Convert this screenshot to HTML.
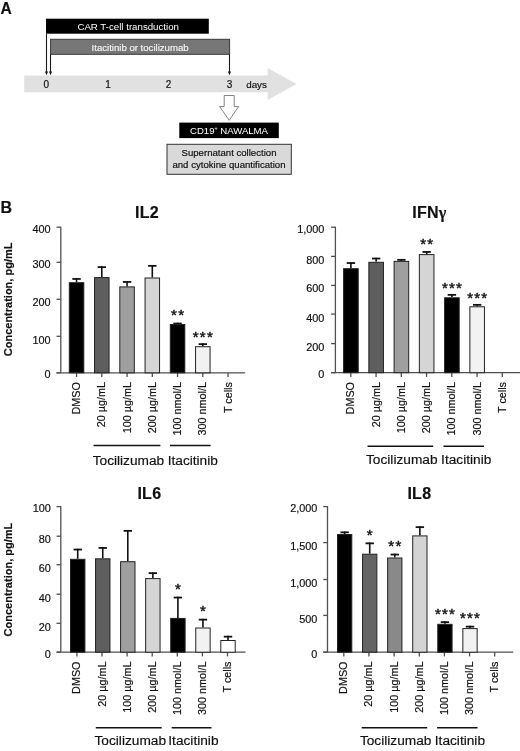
<!DOCTYPE html>
<html><head><meta charset="utf-8"><title>Figure</title>
<style>html,body{margin:0;padding:0;background:#fff;}svg{display:block;filter:blur(0.3px);}</style>
</head><body>
<svg width="520" height="751" viewBox="0 0 520 751" font-family='"Liberation Sans", Arial, sans-serif' fill="#111">
<rect width="520" height="751" fill="#fff"/>
<text stroke="#111" stroke-width="0.18" x="0.4" y="13.6" font-size="15.6" font-weight="bold">A</text>
<polygon points="24.2,75.6 267.7,75.6 267.7,68 296.5,84 267.7,100 267.7,92.3 24.2,92.3" fill="#e1e1e1"/>
<rect x="46" y="18.7" width="162.8" height="15" fill="#000"/>
<text x="128.2" y="30.3" font-size="9.7" fill="#fff" text-anchor="middle">CAR T-cell transduction</text>
<rect x="50.6" y="39.3" width="179" height="15" fill="#777" stroke="#383838" stroke-width="1"/>
<text stroke="#f2f2f2" stroke-width="0.18" x="140.1" y="50.5" font-size="9.6" fill="#f2f2f2" text-anchor="middle">Itacitinib or tocilizumab</text>
<line x1="46.5" y1="33.7" x2="46.5" y2="72" stroke="#1a1a1a" stroke-width="1.1"/>
<polygon points="44.9,71.6 48.1,71.6 46.5,75.3" fill="#1a1a1a"/>
<line x1="50.5" y1="54.3" x2="50.5" y2="72" stroke="#1a1a1a" stroke-width="1.1"/>
<polygon points="48.9,71.6 52.1,71.6 50.5,75.3" fill="#1a1a1a"/>
<line x1="229.5" y1="54.3" x2="229.5" y2="72" stroke="#1a1a1a" stroke-width="1.1"/>
<polygon points="227.9,71.6 231.1,71.6 229.5,75.3" fill="#1a1a1a"/>
<text stroke="#111" stroke-width="0.18" x="46.4" y="88.0" font-size="10" text-anchor="middle">0</text>
<text stroke="#111" stroke-width="0.18" x="108.0" y="88.0" font-size="10" text-anchor="middle">1</text>
<text stroke="#111" stroke-width="0.18" x="168.6" y="88.0" font-size="10" text-anchor="middle">2</text>
<text stroke="#111" stroke-width="0.18" x="229.6" y="88.0" font-size="10" text-anchor="middle">3</text>
<text stroke="#111" stroke-width="0.18" x="246.2" y="88.0" font-size="9.8">days</text>
<polygon points="224.2,95.5 234.2,95.5 234.2,106.5 238.7,106.5 229.2,120.3 219.6,106.5 224.2,106.5" fill="#fff" stroke="#777" stroke-width="0.9"/>
<rect x="179.3" y="122.6" width="99.5" height="15.5" fill="#000"/>
<text x="229" y="133.8" font-size="9.6" fill="#fff" text-anchor="middle">CD19<tspan font-size="5.2" dy="-3.6">+</tspan><tspan dy="3.6"> NAWALMA</tspan></text>
<rect x="167" y="144.3" width="124.3" height="30" fill="#d9d9d9" stroke="#333" stroke-width="1"/>
<text stroke="#111" stroke-width="0.18" x="229" y="156.3" font-size="9.6" text-anchor="middle">Supernatant collection</text>
<text stroke="#111" stroke-width="0.18" x="229" y="167.8" font-size="9.6" text-anchor="middle">and cytokine quantification</text>
<text stroke="#111" stroke-width="0.18" x="0.6" y="212.9" font-size="16" font-weight="bold">B</text>
<text stroke="#111" stroke-width="0.18" x="147.0" y="218.2" font-size="16" font-weight="bold" letter-spacing="0.3" text-anchor="middle">IL2</text>
<line x1="60.8" y1="226.7" x2="60.8" y2="372.8" stroke="#505050" stroke-width="1.3"/>
<line x1="56.5" y1="372.8" x2="245.2" y2="372.8" stroke="#505050" stroke-width="1.3"/>
<line x1="56.5" y1="372.80" x2="60.8" y2="372.80" stroke="#505050" stroke-width="1.3"/>
<text stroke="#111" stroke-width="0.18" x="50.6" y="377.90" font-size="10.9" text-anchor="end">0</text>
<line x1="56.5" y1="336.30" x2="60.8" y2="336.30" stroke="#505050" stroke-width="1.3"/>
<text stroke="#111" stroke-width="0.18" x="50.6" y="343.50" font-size="10.9" text-anchor="end">100</text>
<line x1="56.5" y1="299.30" x2="60.8" y2="299.30" stroke="#505050" stroke-width="1.3"/>
<text stroke="#111" stroke-width="0.18" x="50.6" y="305.60" font-size="10.9" text-anchor="end">200</text>
<line x1="56.5" y1="262.30" x2="60.8" y2="262.30" stroke="#505050" stroke-width="1.3"/>
<text stroke="#111" stroke-width="0.18" x="50.6" y="268.10" font-size="10.9" text-anchor="end">300</text>
<line x1="56.5" y1="227.20" x2="60.8" y2="227.20" stroke="#505050" stroke-width="1.3"/>
<text stroke="#111" stroke-width="0.18" x="50.6" y="232.90" font-size="10.9" text-anchor="end">400</text>
<line x1="76.55" y1="372.8" x2="76.55" y2="377.0" stroke="#505050" stroke-width="1.3"/>
<line x1="76.55" y1="282.20" x2="76.55" y2="278.10" stroke="#111" stroke-width="1.6"/>
<line x1="72.35" y1="278.95" x2="80.75" y2="278.95" stroke="#111" stroke-width="1.8"/>
<rect x="69.30" y="282.70" width="14.50" height="90.10" fill="#000" stroke="#222" stroke-width="1"/>
<text stroke="#111" stroke-width="0.18" transform="translate(80.05,382.10) rotate(-90)" font-size="10.8" text-anchor="end">DMSO</text>
<line x1="101.80" y1="372.8" x2="101.80" y2="377.0" stroke="#505050" stroke-width="1.3"/>
<line x1="101.80" y1="277.10" x2="101.80" y2="266.30" stroke="#111" stroke-width="1.6"/>
<line x1="97.60" y1="267.15" x2="106.00" y2="267.15" stroke="#111" stroke-width="1.8"/>
<rect x="94.55" y="277.60" width="14.50" height="95.20" fill="#5e5e5e" stroke="#222" stroke-width="1"/>
<text stroke="#111" stroke-width="0.18" transform="translate(105.30,382.10) rotate(-90)" font-size="10.8" text-anchor="end">20 µg/mL</text>
<line x1="127.05" y1="372.8" x2="127.05" y2="377.0" stroke="#505050" stroke-width="1.3"/>
<line x1="127.05" y1="286.40" x2="127.05" y2="281.10" stroke="#111" stroke-width="1.6"/>
<line x1="122.85" y1="281.95" x2="131.25" y2="281.95" stroke="#111" stroke-width="1.8"/>
<rect x="119.80" y="286.90" width="14.50" height="85.90" fill="#9f9f9f" stroke="#222" stroke-width="1"/>
<text stroke="#111" stroke-width="0.18" transform="translate(130.55,382.10) rotate(-90)" font-size="10.8" text-anchor="end">100 µg/mL</text>
<line x1="152.30" y1="372.8" x2="152.30" y2="377.0" stroke="#505050" stroke-width="1.3"/>
<line x1="152.30" y1="277.50" x2="152.30" y2="265.00" stroke="#111" stroke-width="1.6"/>
<line x1="148.10" y1="265.85" x2="156.50" y2="265.85" stroke="#111" stroke-width="1.8"/>
<rect x="145.05" y="278.00" width="14.50" height="94.80" fill="#d5d5d5" stroke="#222" stroke-width="1"/>
<text stroke="#111" stroke-width="0.18" transform="translate(155.80,382.10) rotate(-90)" font-size="10.8" text-anchor="end">200 µg/mL</text>
<line x1="177.55" y1="372.8" x2="177.55" y2="377.0" stroke="#505050" stroke-width="1.3"/>
<line x1="177.55" y1="324.00" x2="177.55" y2="322.70" stroke="#111" stroke-width="1.6"/>
<line x1="173.35" y1="323.55" x2="181.75" y2="323.55" stroke="#111" stroke-width="1.8"/>
<rect x="170.30" y="324.50" width="14.50" height="48.30" fill="#000" stroke="#222" stroke-width="1"/>
<text x="178.15" y="320.20" font-size="15" font-weight="normal" letter-spacing="1.2" text-anchor="middle" stroke="#111" stroke-width="0.45">**</text>
<text stroke="#111" stroke-width="0.18" transform="translate(181.05,382.10) rotate(-90)" font-size="10.8" text-anchor="end">100 nmol/L</text>
<line x1="202.80" y1="372.8" x2="202.80" y2="377.0" stroke="#505050" stroke-width="1.3"/>
<line x1="202.80" y1="346.20" x2="202.80" y2="343.30" stroke="#111" stroke-width="1.6"/>
<line x1="198.60" y1="344.15" x2="207.00" y2="344.15" stroke="#111" stroke-width="1.8"/>
<rect x="195.55" y="346.70" width="14.50" height="26.10" fill="#f2f2f2" stroke="#222" stroke-width="1"/>
<text x="203.40" y="341.90" font-size="15" font-weight="normal" letter-spacing="1.2" text-anchor="middle" stroke="#111" stroke-width="0.45">***</text>
<text stroke="#111" stroke-width="0.18" transform="translate(206.30,382.10) rotate(-90)" font-size="10.8" text-anchor="end">300 nmol/L</text>
<line x1="228.05" y1="372.8" x2="228.05" y2="377.0" stroke="#505050" stroke-width="1.3"/>
<text stroke="#111" stroke-width="0.18" transform="translate(231.55,382.10) rotate(-90)" font-size="10.8" text-anchor="end">T cells</text>
<line x1="93.6" y1="445.5" x2="160.4" y2="445.5" stroke="#111" stroke-width="1.4"/>
<line x1="170.0" y1="445.5" x2="210.6" y2="445.5" stroke="#111" stroke-width="1.4"/>
<text stroke="#111" stroke-width="0.18" x="92.7" y="464.6" font-size="13.7">Tocilizumab</text>
<text stroke="#111" stroke-width="0.18" x="217.9" y="464.6" font-size="13.7" text-anchor="end">Itacitinib</text>
<text stroke="#111" stroke-width="0.18" transform="translate(11.5,299.4) rotate(-90)" font-size="11" font-weight="bold" text-anchor="middle">Concentration, pg/mL</text>
<text stroke="#111" stroke-width="0.18" x="429.4" y="217.6" font-size="16" font-weight="bold" letter-spacing="0.3" text-anchor="middle">IFN<tspan font-family="Liberation Serif">γ</tspan></text>
<line x1="335.4" y1="226.7" x2="335.4" y2="372.7" stroke="#505050" stroke-width="1.3"/>
<line x1="331.09999999999997" y1="372.7" x2="520" y2="372.7" stroke="#505050" stroke-width="1.3"/>
<line x1="331.09999999999997" y1="372.70" x2="335.4" y2="372.70" stroke="#505050" stroke-width="1.3"/>
<text stroke="#111" stroke-width="0.18" x="324.4" y="377.60" font-size="10.9" text-anchor="end">0</text>
<line x1="331.09999999999997" y1="343.60" x2="335.4" y2="343.60" stroke="#505050" stroke-width="1.3"/>
<text stroke="#111" stroke-width="0.18" x="324.4" y="351.30" font-size="10.9" text-anchor="end">200</text>
<line x1="331.09999999999997" y1="314.10" x2="335.4" y2="314.10" stroke="#505050" stroke-width="1.3"/>
<text stroke="#111" stroke-width="0.18" x="324.4" y="322.20" font-size="10.9" text-anchor="end">400</text>
<line x1="331.09999999999997" y1="285.40" x2="335.4" y2="285.40" stroke="#505050" stroke-width="1.3"/>
<text stroke="#111" stroke-width="0.18" x="324.4" y="292.40" font-size="10.9" text-anchor="end">600</text>
<line x1="331.09999999999997" y1="256.40" x2="335.4" y2="256.40" stroke="#505050" stroke-width="1.3"/>
<text stroke="#111" stroke-width="0.18" x="324.4" y="263.70" font-size="10.9" text-anchor="end">800</text>
<line x1="331.09999999999997" y1="227.20" x2="335.4" y2="227.20" stroke="#505050" stroke-width="1.3"/>
<text stroke="#111" stroke-width="0.18" x="324.4" y="232.90" font-size="10.9" text-anchor="end">1,000</text>
<line x1="350.80" y1="372.7" x2="350.80" y2="376.9" stroke="#505050" stroke-width="1.3"/>
<line x1="350.90" y1="268.20" x2="350.90" y2="262.20" stroke="#111" stroke-width="1.6"/>
<line x1="346.70" y1="263.05" x2="355.10" y2="263.05" stroke="#111" stroke-width="1.8"/>
<rect x="343.60" y="268.70" width="14.60" height="104.00" fill="#000" stroke="#222" stroke-width="1"/>
<text stroke="#111" stroke-width="0.18" transform="translate(354.30,382.00) rotate(-90)" font-size="10.8" text-anchor="end">DMSO</text>
<line x1="376.05" y1="372.7" x2="376.05" y2="376.9" stroke="#505050" stroke-width="1.3"/>
<line x1="376.15" y1="261.80" x2="376.15" y2="257.70" stroke="#111" stroke-width="1.6"/>
<line x1="371.95" y1="258.55" x2="380.35" y2="258.55" stroke="#111" stroke-width="1.8"/>
<rect x="368.85" y="262.30" width="14.60" height="110.40" fill="#5e5e5e" stroke="#222" stroke-width="1"/>
<text stroke="#111" stroke-width="0.18" transform="translate(379.55,382.00) rotate(-90)" font-size="10.8" text-anchor="end">20 µg/mL</text>
<line x1="401.30" y1="372.7" x2="401.30" y2="376.9" stroke="#505050" stroke-width="1.3"/>
<line x1="401.40" y1="260.90" x2="401.40" y2="259.00" stroke="#111" stroke-width="1.6"/>
<line x1="397.20" y1="259.85" x2="405.60" y2="259.85" stroke="#111" stroke-width="1.8"/>
<rect x="394.10" y="261.40" width="14.60" height="111.30" fill="#9f9f9f" stroke="#222" stroke-width="1"/>
<text stroke="#111" stroke-width="0.18" transform="translate(404.80,382.00) rotate(-90)" font-size="10.8" text-anchor="end">100 µg/mL</text>
<line x1="426.55" y1="372.7" x2="426.55" y2="376.9" stroke="#505050" stroke-width="1.3"/>
<line x1="426.65" y1="254.10" x2="426.65" y2="251.10" stroke="#111" stroke-width="1.6"/>
<line x1="422.45" y1="251.95" x2="430.85" y2="251.95" stroke="#111" stroke-width="1.8"/>
<rect x="419.35" y="254.60" width="14.60" height="118.10" fill="#d5d5d5" stroke="#222" stroke-width="1"/>
<text x="427.25" y="248.50" font-size="15" font-weight="normal" letter-spacing="1.2" text-anchor="middle" stroke="#111" stroke-width="0.45">**</text>
<text stroke="#111" stroke-width="0.18" transform="translate(430.05,382.00) rotate(-90)" font-size="10.8" text-anchor="end">200 µg/mL</text>
<line x1="451.80" y1="372.7" x2="451.80" y2="376.9" stroke="#505050" stroke-width="1.3"/>
<line x1="451.90" y1="297.30" x2="451.90" y2="294.00" stroke="#111" stroke-width="1.6"/>
<line x1="447.70" y1="294.85" x2="456.10" y2="294.85" stroke="#111" stroke-width="1.8"/>
<rect x="444.60" y="297.80" width="14.60" height="74.90" fill="#000" stroke="#222" stroke-width="1"/>
<text x="452.50" y="293.10" font-size="15" font-weight="normal" letter-spacing="1.2" text-anchor="middle" stroke="#111" stroke-width="0.45">***</text>
<text stroke="#111" stroke-width="0.18" transform="translate(455.30,382.00) rotate(-90)" font-size="10.8" text-anchor="end">100 nmol/L</text>
<line x1="477.05" y1="372.7" x2="477.05" y2="376.9" stroke="#505050" stroke-width="1.3"/>
<line x1="477.15" y1="306.30" x2="477.15" y2="304.00" stroke="#111" stroke-width="1.6"/>
<line x1="472.95" y1="304.85" x2="481.35" y2="304.85" stroke="#111" stroke-width="1.8"/>
<rect x="469.85" y="306.80" width="14.60" height="65.90" fill="#f2f2f2" stroke="#222" stroke-width="1"/>
<text x="477.75" y="303.10" font-size="15" font-weight="normal" letter-spacing="1.2" text-anchor="middle" stroke="#111" stroke-width="0.45">***</text>
<text stroke="#111" stroke-width="0.18" transform="translate(480.55,382.00) rotate(-90)" font-size="10.8" text-anchor="end">300 nmol/L</text>
<line x1="502.30" y1="372.7" x2="502.30" y2="376.9" stroke="#505050" stroke-width="1.3"/>
<text stroke="#111" stroke-width="0.18" transform="translate(505.80,382.00) rotate(-90)" font-size="10.8" text-anchor="end">T cells</text>
<line x1="367.5" y1="446.3" x2="433.2" y2="446.3" stroke="#111" stroke-width="1.4"/>
<line x1="443.5" y1="446.3" x2="483.9" y2="446.3" stroke="#111" stroke-width="1.4"/>
<text stroke="#111" stroke-width="0.18" x="366.0" y="463.9" font-size="13.7">Tocilizumab</text>
<text stroke="#111" stroke-width="0.18" x="491.3" y="463.9" font-size="13.7" text-anchor="end">Itacitinib</text>
<text stroke="#111" stroke-width="0.18" x="149.4" y="498.7" font-size="16" font-weight="bold" letter-spacing="0.3" text-anchor="middle">IL6</text>
<line x1="60.8" y1="506.1" x2="60.8" y2="652.2" stroke="#505050" stroke-width="1.3"/>
<line x1="56.5" y1="652.2" x2="245.6" y2="652.2" stroke="#505050" stroke-width="1.3"/>
<line x1="56.5" y1="652.20" x2="60.8" y2="652.20" stroke="#505050" stroke-width="1.3"/>
<text stroke="#111" stroke-width="0.18" x="50.8" y="657.70" font-size="10.9" text-anchor="end">0</text>
<line x1="56.5" y1="623.30" x2="60.8" y2="623.30" stroke="#505050" stroke-width="1.3"/>
<text stroke="#111" stroke-width="0.18" x="50.8" y="630.80" font-size="10.9" text-anchor="end">20</text>
<line x1="56.5" y1="594.20" x2="60.8" y2="594.20" stroke="#505050" stroke-width="1.3"/>
<text stroke="#111" stroke-width="0.18" x="50.8" y="601.80" font-size="10.9" text-anchor="end">40</text>
<line x1="56.5" y1="564.70" x2="60.8" y2="564.70" stroke="#505050" stroke-width="1.3"/>
<text stroke="#111" stroke-width="0.18" x="50.8" y="571.90" font-size="10.9" text-anchor="end">60</text>
<line x1="56.5" y1="536.20" x2="60.8" y2="536.20" stroke="#505050" stroke-width="1.3"/>
<text stroke="#111" stroke-width="0.18" x="50.8" y="543.30" font-size="10.9" text-anchor="end">80</text>
<line x1="56.5" y1="506.60" x2="60.8" y2="506.60" stroke="#505050" stroke-width="1.3"/>
<text stroke="#111" stroke-width="0.18" x="50.8" y="512.00" font-size="10.9" text-anchor="end">100</text>
<line x1="76.90" y1="652.2" x2="76.90" y2="656.4000000000001" stroke="#505050" stroke-width="1.3"/>
<line x1="77.70" y1="558.80" x2="77.70" y2="548.70" stroke="#111" stroke-width="1.6"/>
<line x1="73.50" y1="549.55" x2="81.90" y2="549.55" stroke="#111" stroke-width="1.8"/>
<rect x="70.50" y="559.30" width="14.40" height="92.90" fill="#000" stroke="#222" stroke-width="1"/>
<text stroke="#111" stroke-width="0.18" transform="translate(80.40,661.50) rotate(-90)" font-size="10.8" text-anchor="end">DMSO</text>
<line x1="102.00" y1="652.2" x2="102.00" y2="656.4000000000001" stroke="#505050" stroke-width="1.3"/>
<line x1="102.75" y1="558.30" x2="102.75" y2="547.10" stroke="#111" stroke-width="1.6"/>
<line x1="98.55" y1="547.95" x2="106.95" y2="547.95" stroke="#111" stroke-width="1.8"/>
<rect x="95.55" y="558.80" width="14.40" height="93.40" fill="#5e5e5e" stroke="#222" stroke-width="1"/>
<text stroke="#111" stroke-width="0.18" transform="translate(105.50,661.50) rotate(-90)" font-size="10.8" text-anchor="end">20 µg/mL</text>
<line x1="127.10" y1="652.2" x2="127.10" y2="656.4000000000001" stroke="#505050" stroke-width="1.3"/>
<line x1="127.80" y1="561.20" x2="127.80" y2="530.00" stroke="#111" stroke-width="1.6"/>
<line x1="123.60" y1="530.85" x2="132.00" y2="530.85" stroke="#111" stroke-width="1.8"/>
<rect x="120.60" y="561.70" width="14.40" height="90.50" fill="#9f9f9f" stroke="#222" stroke-width="1"/>
<text stroke="#111" stroke-width="0.18" transform="translate(130.60,661.50) rotate(-90)" font-size="10.8" text-anchor="end">100 µg/mL</text>
<line x1="152.20" y1="652.2" x2="152.20" y2="656.4000000000001" stroke="#505050" stroke-width="1.3"/>
<line x1="152.85" y1="578.10" x2="152.85" y2="572.30" stroke="#111" stroke-width="1.6"/>
<line x1="148.65" y1="573.15" x2="157.05" y2="573.15" stroke="#111" stroke-width="1.8"/>
<rect x="145.65" y="578.60" width="14.40" height="73.60" fill="#d5d5d5" stroke="#222" stroke-width="1"/>
<text stroke="#111" stroke-width="0.18" transform="translate(155.70,661.50) rotate(-90)" font-size="10.8" text-anchor="end">200 µg/mL</text>
<line x1="177.30" y1="652.2" x2="177.30" y2="656.4000000000001" stroke="#505050" stroke-width="1.3"/>
<line x1="177.90" y1="617.90" x2="177.90" y2="596.70" stroke="#111" stroke-width="1.6"/>
<line x1="173.70" y1="597.55" x2="182.10" y2="597.55" stroke="#111" stroke-width="1.8"/>
<rect x="170.70" y="618.40" width="14.40" height="33.80" fill="#000" stroke="#222" stroke-width="1"/>
<text x="178.50" y="593.90" font-size="15" font-weight="normal" letter-spacing="1.2" text-anchor="middle" stroke="#111" stroke-width="0.45">*</text>
<text stroke="#111" stroke-width="0.18" transform="translate(180.80,661.50) rotate(-90)" font-size="10.8" text-anchor="end">100 nmol/L</text>
<line x1="202.40" y1="652.2" x2="202.40" y2="656.4000000000001" stroke="#505050" stroke-width="1.3"/>
<line x1="202.95" y1="627.50" x2="202.95" y2="618.80" stroke="#111" stroke-width="1.6"/>
<line x1="198.75" y1="619.65" x2="207.15" y2="619.65" stroke="#111" stroke-width="1.8"/>
<rect x="195.75" y="628.00" width="14.40" height="24.20" fill="#f2f2f2" stroke="#222" stroke-width="1"/>
<text x="203.55" y="615.90" font-size="15" font-weight="normal" letter-spacing="1.2" text-anchor="middle" stroke="#111" stroke-width="0.45">*</text>
<text stroke="#111" stroke-width="0.18" transform="translate(205.90,661.50) rotate(-90)" font-size="10.8" text-anchor="end">300 nmol/L</text>
<line x1="227.50" y1="652.2" x2="227.50" y2="656.4000000000001" stroke="#505050" stroke-width="1.3"/>
<line x1="228.00" y1="640.00" x2="228.00" y2="635.80" stroke="#111" stroke-width="1.6"/>
<line x1="223.80" y1="636.65" x2="232.20" y2="636.65" stroke="#111" stroke-width="1.8"/>
<rect x="220.80" y="640.50" width="14.40" height="11.70" fill="#fff" stroke="#222" stroke-width="1"/>
<text stroke="#111" stroke-width="0.18" transform="translate(231.00,661.50) rotate(-90)" font-size="10.8" text-anchor="end">T cells</text>
<line x1="95.8" y1="727.7" x2="161.7" y2="727.7" stroke="#111" stroke-width="1.4"/>
<line x1="171.7" y1="727.7" x2="211.5" y2="727.7" stroke="#111" stroke-width="1.4"/>
<text stroke="#111" stroke-width="0.18" x="94.5" y="745.4" font-size="13.7">Tocilizumab</text>
<text stroke="#111" stroke-width="0.18" x="218.5" y="745.4" font-size="13.7" text-anchor="end">Itacitinib</text>
<text stroke="#111" stroke-width="0.18" transform="translate(11.5,579.6) rotate(-90)" font-size="11" font-weight="bold" text-anchor="middle">Concentration, pg/mL</text>
<text stroke="#111" stroke-width="0.18" x="419.4" y="498.7" font-size="16" font-weight="bold" letter-spacing="0.3" text-anchor="middle">IL8</text>
<line x1="327.5" y1="506.1" x2="327.5" y2="652.2" stroke="#505050" stroke-width="1.3"/>
<line x1="323.2" y1="652.2" x2="513.3" y2="652.2" stroke="#505050" stroke-width="1.3"/>
<line x1="323.2" y1="652.20" x2="327.5" y2="652.20" stroke="#505050" stroke-width="1.3"/>
<text stroke="#111" stroke-width="0.18" x="317.4" y="657.80" font-size="10.9" text-anchor="end">0</text>
<line x1="323.2" y1="615.40" x2="327.5" y2="615.40" stroke="#505050" stroke-width="1.3"/>
<text stroke="#111" stroke-width="0.18" x="317.4" y="622.70" font-size="10.9" text-anchor="end">500</text>
<line x1="323.2" y1="579.50" x2="327.5" y2="579.50" stroke="#505050" stroke-width="1.3"/>
<text stroke="#111" stroke-width="0.18" x="317.4" y="586.90" font-size="10.9" text-anchor="end">1,000</text>
<line x1="323.2" y1="542.60" x2="327.5" y2="542.60" stroke="#505050" stroke-width="1.3"/>
<text stroke="#111" stroke-width="0.18" x="317.4" y="549.50" font-size="10.9" text-anchor="end">1,500</text>
<line x1="323.2" y1="506.60" x2="327.5" y2="506.60" stroke="#505050" stroke-width="1.3"/>
<text stroke="#111" stroke-width="0.18" x="317.4" y="512.00" font-size="10.9" text-anchor="end">2,000</text>
<line x1="343.80" y1="652.2" x2="343.80" y2="656.4000000000001" stroke="#505050" stroke-width="1.3"/>
<line x1="344.65" y1="534.00" x2="344.65" y2="531.50" stroke="#111" stroke-width="1.6"/>
<line x1="340.45" y1="532.35" x2="348.85" y2="532.35" stroke="#111" stroke-width="1.8"/>
<rect x="337.50" y="534.50" width="14.30" height="117.70" fill="#000" stroke="#222" stroke-width="1"/>
<text stroke="#111" stroke-width="0.18" transform="translate(347.30,661.50) rotate(-90)" font-size="10.8" text-anchor="end">DMSO</text>
<line x1="368.95" y1="652.2" x2="368.95" y2="656.4000000000001" stroke="#505050" stroke-width="1.3"/>
<line x1="369.72" y1="553.70" x2="369.72" y2="542.50" stroke="#111" stroke-width="1.6"/>
<line x1="365.52" y1="543.35" x2="373.92" y2="543.35" stroke="#111" stroke-width="1.8"/>
<rect x="362.57" y="554.20" width="14.30" height="98.00" fill="#646464" stroke="#222" stroke-width="1"/>
<text x="370.32" y="540.40" font-size="15" font-weight="normal" letter-spacing="1.2" text-anchor="middle" stroke="#111" stroke-width="0.45">*</text>
<text stroke="#111" stroke-width="0.18" transform="translate(372.45,661.50) rotate(-90)" font-size="10.8" text-anchor="end">20 µg/mL</text>
<line x1="394.10" y1="652.2" x2="394.10" y2="656.4000000000001" stroke="#505050" stroke-width="1.3"/>
<line x1="394.79" y1="557.50" x2="394.79" y2="553.70" stroke="#111" stroke-width="1.6"/>
<line x1="390.59" y1="554.55" x2="398.99" y2="554.55" stroke="#111" stroke-width="1.8"/>
<rect x="387.64" y="558.00" width="14.30" height="94.20" fill="#898989" stroke="#222" stroke-width="1"/>
<text x="395.39" y="551.40" font-size="15" font-weight="normal" letter-spacing="1.2" text-anchor="middle" stroke="#111" stroke-width="0.45">**</text>
<text stroke="#111" stroke-width="0.18" transform="translate(397.60,661.50) rotate(-90)" font-size="10.8" text-anchor="end">100 µg/mL</text>
<line x1="419.25" y1="652.2" x2="419.25" y2="656.4000000000001" stroke="#505050" stroke-width="1.3"/>
<line x1="419.86" y1="535.40" x2="419.86" y2="526.30" stroke="#111" stroke-width="1.6"/>
<line x1="415.66" y1="527.15" x2="424.06" y2="527.15" stroke="#111" stroke-width="1.8"/>
<rect x="412.71" y="535.90" width="14.30" height="116.30" fill="#d4d4d4" stroke="#222" stroke-width="1"/>
<text stroke="#111" stroke-width="0.18" transform="translate(422.75,661.50) rotate(-90)" font-size="10.8" text-anchor="end">200 µg/mL</text>
<line x1="444.40" y1="652.2" x2="444.40" y2="656.4000000000001" stroke="#505050" stroke-width="1.3"/>
<line x1="444.93" y1="623.80" x2="444.93" y2="621.30" stroke="#111" stroke-width="1.6"/>
<line x1="440.73" y1="622.15" x2="449.13" y2="622.15" stroke="#111" stroke-width="1.8"/>
<rect x="437.78" y="624.30" width="14.30" height="27.90" fill="#000" stroke="#222" stroke-width="1"/>
<text x="445.53" y="619.00" font-size="15" font-weight="normal" letter-spacing="1.2" text-anchor="middle" stroke="#111" stroke-width="0.45">***</text>
<text stroke="#111" stroke-width="0.18" transform="translate(447.90,661.50) rotate(-90)" font-size="10.8" text-anchor="end">100 nmol/L</text>
<line x1="469.55" y1="652.2" x2="469.55" y2="656.4000000000001" stroke="#505050" stroke-width="1.3"/>
<line x1="470.00" y1="628.10" x2="470.00" y2="625.80" stroke="#111" stroke-width="1.6"/>
<line x1="465.80" y1="626.65" x2="474.20" y2="626.65" stroke="#111" stroke-width="1.8"/>
<rect x="462.85" y="628.60" width="14.30" height="23.60" fill="#f2f2f2" stroke="#222" stroke-width="1"/>
<text x="470.60" y="623.40" font-size="15" font-weight="normal" letter-spacing="1.2" text-anchor="middle" stroke="#111" stroke-width="0.45">***</text>
<text stroke="#111" stroke-width="0.18" transform="translate(473.05,661.50) rotate(-90)" font-size="10.8" text-anchor="end">300 nmol/L</text>
<line x1="494.70" y1="652.2" x2="494.70" y2="656.4000000000001" stroke="#505050" stroke-width="1.3"/>
<text stroke="#111" stroke-width="0.18" transform="translate(498.20,661.50) rotate(-90)" font-size="10.8" text-anchor="end">T cells</text>
<line x1="361.7" y1="727.7" x2="427.2" y2="727.7" stroke="#111" stroke-width="1.4"/>
<line x1="437.1" y1="727.7" x2="477.5" y2="727.7" stroke="#111" stroke-width="1.4"/>
<text stroke="#111" stroke-width="0.18" x="359.9" y="745.4" font-size="13.7">Tocilizumab</text>
<text stroke="#111" stroke-width="0.18" x="485.0" y="745.4" font-size="13.7" text-anchor="end">Itacitinib</text>
</svg>
</body></html>
